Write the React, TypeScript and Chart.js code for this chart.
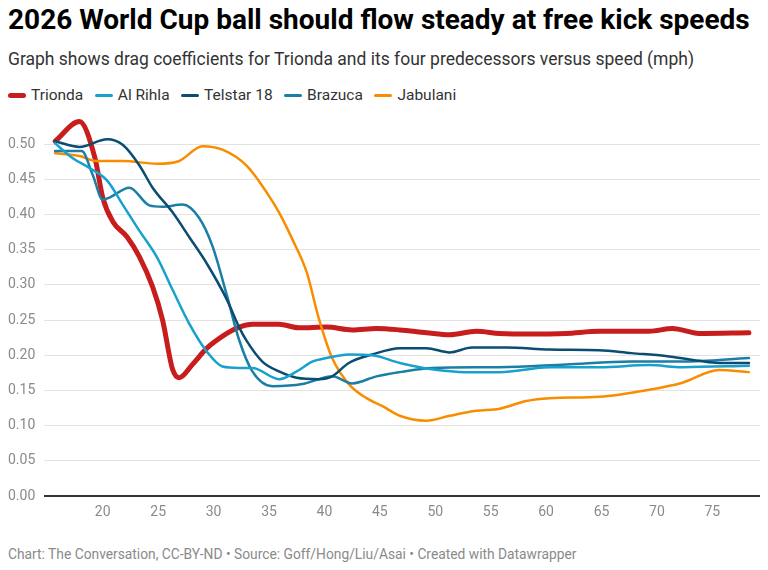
import React, { useEffect, useRef } from "react";
import { Chart, registerables } from "chart.js";

Chart.register(...registerables);

const TITLE = "2026 World Cup ball should flow steady at free kick speeds";
const SUBTITLE = "Graph shows drag coefficients for Trionda and its four predecessors versus speed (mph)";
const FOOTER = "Chart: The Conversation, CC-BY-ND • Source: Goff/Hong/Liu/Asai • Created with Datawrapper";

const xTicks = [20, 25, 30, 35, 40, 45, 50, 55, 60, 65, 70, 75];
const yTicks = [0, 0.05, 0.1, 0.15, 0.2, 0.25, 0.3, 0.35, 0.4, 0.45, 0.5];

const seriesNames = ["Trionda", "Al Rihla", "Telstar 18", "Brazuca", "Jabulani"];
const seriesColors = ["#c71e1d", "#18a1cd", "#0b4d70", "#1a7ea6", "#fa8c00"];

const triondaX = [15.7, 17.9, 19.3, 20.0, 20.9, 22.2, 23.3, 24.5, 25.4, 26.3, 26.9, 28.1, 29.4, 31.2, 32.3, 33.5, 35.9, 37.7, 40.2, 42.5, 44.7, 46.8, 49.2, 51.3, 53.7, 55.8, 58.7, 61.8, 64.8, 69.3, 71.4, 73.8, 78.3];
const triondaY = [0.504, 0.532, 0.48, 0.424, 0.39, 0.368, 0.34, 0.297, 0.25, 0.18, 0.168, 0.187, 0.21, 0.231, 0.24, 0.244, 0.244, 0.239, 0.24, 0.236, 0.238, 0.236, 0.232, 0.229, 0.234, 0.231, 0.230, 0.231, 0.234, 0.234, 0.238, 0.231, 0.232];

const alRihlaX = [15.7, 17.3, 18.8, 20.4, 21.8, 23.3, 24.9, 26.3, 27.8, 29.4, 30.8, 32.3, 33.5, 35.9, 37.5, 38.9, 40.2, 42.2, 44.3, 46.8, 49.7, 52.8, 55.8, 60.3, 64.8, 69.3, 72.3, 78.3];
const alRihlaY = [0.501, 0.48, 0.466, 0.448, 0.414, 0.377, 0.339, 0.293, 0.245, 0.205, 0.184, 0.182, 0.182, 0.166, 0.177, 0.191, 0.196, 0.201, 0.2, 0.189, 0.18, 0.176, 0.176, 0.183, 0.183, 0.186, 0.183, 0.185];

const telstarX = [15.7, 17.9, 20.4, 21.8, 23.3, 24.5, 26.3, 27.8, 29.4, 31.2, 32.3, 33.0, 34.4, 35.9, 37.5, 39.5, 40.7, 42.2, 44.3, 46.8, 49.2, 51.3, 53.3, 56.4, 60.3, 64.8, 67.7, 70.8, 73.8, 75.6, 78.3];
const telstarY = [0.504, 0.496, 0.507, 0.499, 0.47, 0.438, 0.403, 0.368, 0.33, 0.279, 0.24, 0.22, 0.191, 0.177, 0.168, 0.166, 0.17, 0.189, 0.201, 0.21, 0.21, 0.204, 0.211, 0.211, 0.208, 0.207, 0.203, 0.199, 0.192, 0.189, 0.189];

const brazucaX = [15.7, 18.1, 19.1, 20.0, 20.6, 22.4, 24.2, 25.4, 27.2, 28.7, 29.9, 31.2, 32.3, 33.5, 35.3, 38.0, 39.5, 40.7, 42.5, 44.7, 46.8, 49.7, 55.8, 61.8, 67.7, 72.3, 78.3];
const brazucaY = [0.49, 0.49, 0.456, 0.421, 0.424, 0.438, 0.413, 0.411, 0.414, 0.395, 0.355, 0.285, 0.222, 0.177, 0.156, 0.159, 0.166, 0.17, 0.16, 0.17, 0.176, 0.182, 0.183, 0.187, 0.191, 0.191, 0.196];

const jabulaniX = [15.7, 17.9, 19.4, 21.8, 24.9, 26.9, 29.0, 30.8, 33.0, 34.8, 35.9, 37.1, 38.4, 39.5, 40.7, 42.2, 43.8, 45.2, 46.8, 49.2, 51.3, 53.7, 55.8, 58.2, 60.3, 64.8, 69.3, 72.3, 75.6, 78.3];
const jabulaniY = [0.487, 0.483, 0.476, 0.476, 0.472, 0.476, 0.497, 0.492, 0.469, 0.431, 0.403, 0.365, 0.318, 0.252, 0.196, 0.159, 0.139, 0.128, 0.114, 0.107, 0.114, 0.121, 0.124, 0.135, 0.139, 0.141, 0.151, 0.161, 0.179, 0.176];

const allX = [triondaX, alRihlaX, telstarX, brazucaX, jabulaniX];
const allY = [triondaY, alRihlaY, telstarY, brazucaY, jabulaniY];
const widths = [5, 2.5, 2.5, 2.5, 2.5];

const FONT = "Roboto, 'Noto Sans', sans-serif";

export default function App() {
  const ref = useRef<HTMLCanvasElement | null>(null);

  useEffect(() => {
    if (!ref.current) return;
    const order = [1, 2, 3, 4, 0];
    const datasets = order.map((i) => ({
      label: seriesNames[i],
      data: allX[i].map((x, k) => ({ x, y: allY[i][k] })),
      borderColor: seriesColors[i],
      backgroundColor: seriesColors[i],
      borderWidth: widths[i],
      pointRadius: 0,
      cubicInterpolationMode: "monotone" as const,
      borderCapStyle: "round" as const,
      borderJoinStyle: "round" as const,
      fill: false,
    }));
    const chart = new Chart(ref.current, {
      type: "line",
      data: { datasets },
      options: {
        animation: false,
        responsive: false,
        maintainAspectRatio: false,
        layout: { padding: { top: 5, left: 8, right: 8, bottom: 0 } },
        plugins: { legend: { display: false }, tooltip: { enabled: false } },
        scales: {
          x: {
            type: "linear",
            min: 14.7,
            max: 79.3,
            afterBuildTicks: (s: any) => {
              s.ticks = xTicks.map((v) => ({ value: v }));
            },
            afterFit: (s: any) => {
              s.height = 34;
            },
            grid: { display: false, drawTicks: false },
            border: { display: false },
            ticks: {
              padding: 8,
              color: "#8a8a8a",
              font: { family: FONT, size: 14 },
              maxRotation: 0,
              autoSkip: false,
              callback: (v: any) => String(v),
            },
          },
          y: {
            type: "linear",
            min: 0,
            max: 0.5507,
            afterBuildTicks: (s: any) => {
              s.ticks = yTicks.map((v) => ({ value: v }));
            },
            afterFit: (s: any) => {
              s.width = 36;
            },
            grid: {
              drawTicks: false,
              color: (c: any) => (c.tick && Math.abs(c.tick.value) < 1e-9 ? "#333333" : "#e3e3e3"),
              lineWidth: (c: any) => (c.tick && Math.abs(c.tick.value) < 1e-9 ? 2 : 1),
            },
            border: { display: false },
            ticks: {
              crossAlign: "far",
              padding: 0,
              color: "#8a8a8a",
              font: { family: FONT, size: 14 },
              autoSkip: false,
              callback: (v: any) => Number(v).toFixed(2),
            },
          },
        },
      },
    });
    return () => chart.destroy();
  }, []);

  return (
    <div style={{ position: "absolute", left: 0, top: 0, width: 768, height: 570, background: "#fff", fontFamily: FONT, overflow: "hidden" }}>
      <div style={{ position: "absolute", left: 8, top: 3, fontSize: 28, fontWeight: 700, color: "#000", whiteSpace: "nowrap" }}>{TITLE}</div>
      <div style={{ position: "absolute", left: 8, top: 49, fontSize: 17.5, color: "#333", whiteSpace: "nowrap" }}>{SUBTITLE}</div>
      <div style={{ position: "absolute", left: 8, top: 86, display: "flex", alignItems: "center", fontSize: 15.5, color: "#333", whiteSpace: "nowrap" }}>
        {seriesNames.map((n, i) => (
          <div key={n} style={{ display: "flex", alignItems: "center", marginRight: 11.5 }}>
            <span style={{ display: "inline-block", width: 18, height: i === 0 ? 5 : 3, borderRadius: 3, background: seriesColors[i], marginRight: 5 }} />
            <span>{n}</span>
          </div>
        ))}
      </div>
      <canvas ref={ref} width={768} height={430} style={{ position: "absolute", left: 0, top: 100, width: 768, height: 430 }} />
      <div style={{ position: "absolute", left: 8, top: 546, fontSize: 13.8, color: "#8a8a8a", whiteSpace: "nowrap" }}>{FOOTER}</div>
    </div>
  );
}
